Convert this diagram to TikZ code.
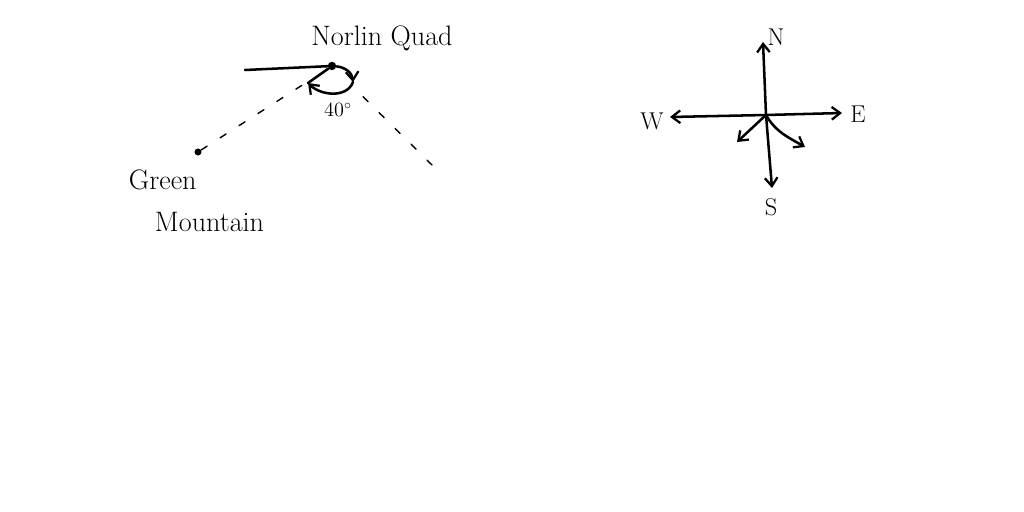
\documentclass[tikz,border=0pt]{standalone}
\usepackage{tikz}
\usetikzlibrary{arrows.meta,calc}

\begin{document}
\begin{tikzpicture}[x=0.025cm, y=-0.025cm, line cap=round,
    pen/.style={line width=1.8pt},
    sight/.style={line width=1pt, dash pattern=on 5pt off 11pt},
    tip/.style={-{Straight Barb[length=6pt,width=9pt,line width=1.6pt]}},
    spot/.style={circle, fill, inner sep=0pt, minimum size=6pt},
    hand/.style={font=\fontsize{20}{24}\selectfont}]

    \useasboundingbox (0,0) rectangle (1024,512);

    % points on the map
    \node[spot] (quad) at (332,66) {};
    \node[spot, minimum size=5pt] (green) at (198,152) {};
    \coordinate (west) at (245,70);
    \coordinate (far) at (432,165);
    \coordinate (lt) at (308,83);
    \coordinate (rt) at (353,82);

    \node[hand] (quadlbl) at (382,38) {Norlin Quad};
    \node[hand, anchor=west] (greenlbl) at (124,180) {Green};
    \node[hand, anchor=west] (mountlbl) at (150,222) {Mountain};
    \node[font=\Large] (angle) at (338,110) {40$^\circ$};

    \draw[pen] (west) -- (quad);
    \draw[sight] (green) -- ($(quad)!0.16!(green)$);
    \draw[sight] (far) -- ($(quad)!0.22!(far)$);

    % angle marker
    \draw[pen] (quad) -- (lt);
    \draw[pen, tip] (quad) to[out=-5, in=95] (rt);
    \draw[pen, tip] (rt) to[out=-110, in=-45] (lt);

    % compass
    \coordinate (c) at (766,115);
    \node[font=\LARGE] (n) at (776,37) {N};
    \node[font=\LARGE] (w) at (652,121) {W};
    \node[font=\LARGE] (e) at (858,114) {E};
    \node[font=\LARGE] (s) at (771,207) {S};
    \coordinate (ntip) at (763,42);
    \coordinate (wtip) at (670,117);
    \coordinate (etip) at (842,113);
    \coordinate (stip) at (772,188);
    \coordinate (swtip) at (737,142);
    \coordinate (setip) at (805,147);

    \draw[pen, tip] (c) -- (ntip);
    \draw[pen, tip] (c) -- (wtip);
    \draw[pen, tip] (c) -- (etip);
    \draw[pen, tip] (c) -- (stip);
    \draw[pen, tip] (c) -- (swtip);
    \draw[pen, tip] (c) to[out=-60, in=150] (setip);

\end{tikzpicture}
\end{document}
